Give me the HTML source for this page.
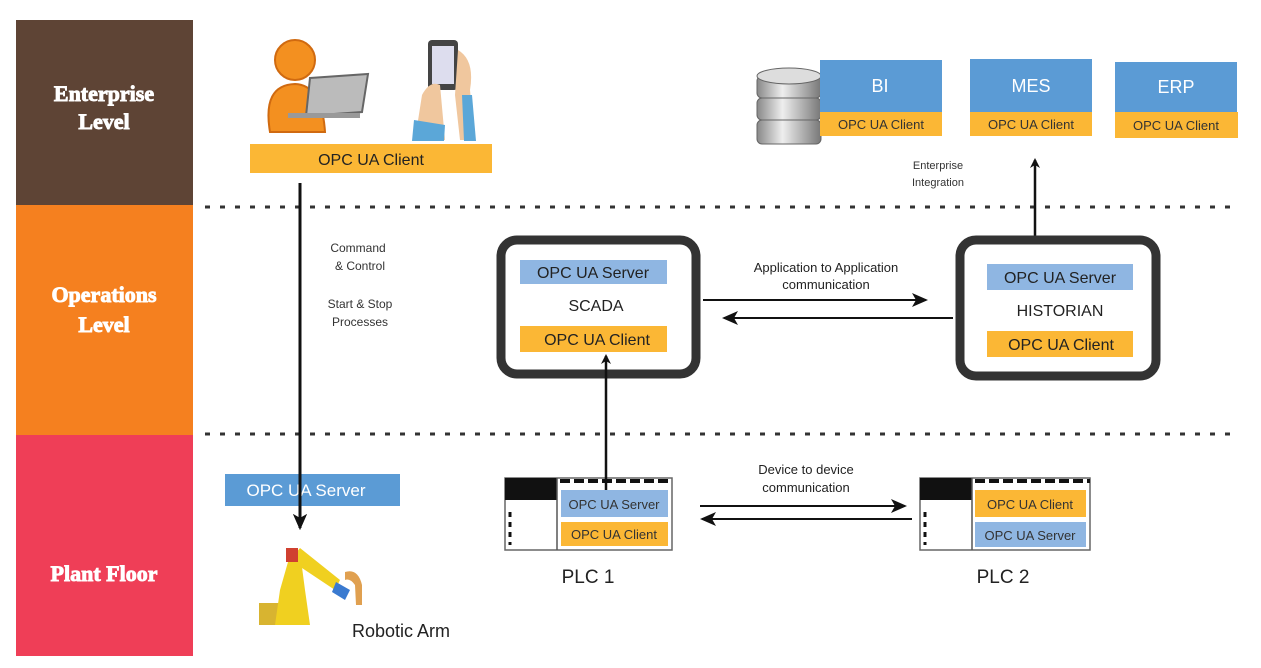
<!DOCTYPE html>
<html><head><meta charset="utf-8"><style>
html,body{margin:0;padding:0;background:#fff;width:1261px;height:668px;overflow:hidden}
svg{display:block}
text{font-family:"Liberation Sans",sans-serif}
text.lv{font-family:"Liberation Serif",serif;font-weight:bold;fill:#fff;font-size:22px;stroke:#fff;stroke-width:0.9}
</style></head><body>
<svg width="1261" height="668" viewBox="0 0 1261 668" xmlns="http://www.w3.org/2000/svg">
<defs>
<marker id="ah" markerWidth="10" markerHeight="10" refX="8" refY="5" orient="auto" markerUnits="userSpaceOnUse"><path d="M0,0 L10,5 L0,10 L3,5 Z" fill="#111"/></marker>
<marker id="ah2" markerWidth="16" markerHeight="14" refX="14" refY="7" orient="auto" markerUnits="userSpaceOnUse"><path d="M0,0 L16,7 L0,14 L4,7 Z" fill="#111"/></marker>
<linearGradient id="met" x1="0" x2="1" y1="0" y2="0"><stop offset="0" stop-color="#888"/><stop offset="0.4" stop-color="#eee"/><stop offset="1" stop-color="#777"/></linearGradient>
</defs>
<rect x="16" y="20" width="177" height="185" fill="#5e4435"/>
<rect x="16" y="205" width="177" height="230" fill="#f5801f"/>
<rect x="16" y="435" width="177" height="221" fill="#ef3e57"/>
<text class="lv" x="104" y="101" text-anchor="middle" font-weight="bold">Enterprise</text>
<text class="lv" x="104" y="129" text-anchor="middle" font-weight="bold">Level</text>
<text class="lv" x="104" y="302" text-anchor="middle" font-weight="bold">Operations</text>
<text class="lv" x="104" y="332" text-anchor="middle" font-weight="bold">Level</text>
<text class="lv" x="104" y="581" text-anchor="middle" font-weight="bold">Plant Floor</text>
<line x1="205" y1="207" x2="1240" y2="207" stroke="#333" stroke-width="3" stroke-dasharray="5,10"/>
<line x1="205" y1="434" x2="1240" y2="434" stroke="#333" stroke-width="3" stroke-dasharray="5,10"/>

<circle cx="295" cy="60" r="20" fill="#f39020" stroke="#d06a10" stroke-width="2"/>
<path d="M270,132 Q262,85 295,84 Q322,85 325,132 Z" fill="#f39020" stroke="#d06a10" stroke-width="2"/>
<path d="M310,78 L368,74 L362,112 L306,116 Z" fill="#bbb" stroke="#666" stroke-width="2"/>
<rect x="288" y="113" width="72" height="5" fill="#999"/>
<rect x="428" y="40" width="30" height="50" rx="4" fill="#444"/>
<rect x="432" y="46" width="22" height="38" fill="#dde"/>
<path d="M415,140 L422,95 Q430,80 440,85 L445,140 Z" fill="#f0c79e"/>
<path d="M458,50 Q475,60 470,90 L475,140 L460,140 L455,95 Z" fill="#f0c79e"/>
<path d="M414,120 L445,125 L444,141 L412,141 Z" fill="#5ba7d8"/>
<path d="M462,95 L472,95 L476,141 L464,141 Z" fill="#5ba7d8"/>
<rect x="250" y="144" width="242" height="29" fill="#fbb735"/>
<text x="371" y="165" font-size="16" text-anchor="middle" fill="#222">OPC UA Client</text>

<line x1="300" y1="183" x2="300" y2="528" stroke="#111" stroke-width="3" marker-end="url(#ah2)"/>
<g font-size="12" fill="#333" text-anchor="middle">
<text x="358" y="252">Command</text><text x="360" y="270">&amp; Control</text>
<text x="360" y="308">Start &amp; Stop</text><text x="360" y="326">Processes</text>
</g>

<g stroke="#666" stroke-width="1">
<rect x="757" y="120" width="64" height="24" rx="5" fill="url(#met)"/>
<rect x="757" y="98" width="64" height="22" rx="5" fill="url(#met)"/>
<rect x="757" y="76" width="64" height="22" rx="5" fill="url(#met)"/>
<ellipse cx="789" cy="76" rx="32" ry="8" fill="#ddd"/>
</g>
<rect x="820" y="60" width="122" height="52" fill="#5b9bd5"/>
<rect x="820" y="112" width="122" height="24" fill="#fbb735"/>
<rect x="970" y="59" width="122" height="53" fill="#5b9bd5"/>
<rect x="970" y="112" width="122" height="24" fill="#fbb735"/>
<rect x="1115" y="62" width="122" height="50" fill="#5b9bd5"/>
<rect x="1115" y="112" width="123" height="26" fill="#fbb735"/>
<g font-size="18" fill="#fff" text-anchor="middle">
<text x="880" y="92">BI</text><text x="1031" y="92">MES</text><text x="1176" y="93">ERP</text>
</g>
<g font-size="13" fill="#333" text-anchor="middle">
<text x="881" y="129">OPC UA Client</text><text x="1031" y="129">OPC UA Client</text><text x="1176" y="130">OPC UA Client</text>
</g>
<g font-size="11" fill="#333" text-anchor="middle">
<text x="938" y="169">Enterprise</text><text x="938" y="186">Integration</text>
</g>
<line x1="1035" y1="252" x2="1035" y2="160" stroke="#111" stroke-width="2.5" marker-end="url(#ah)"/>

<rect x="501" y="240" width="195" height="134" rx="16" fill="#fff" stroke="#333" stroke-width="9"/>
<rect x="520" y="260" width="147" height="24" fill="#8fb6e2"/>
<text x="593" y="278" font-size="16" text-anchor="middle" fill="#222">OPC UA Server</text>
<text x="596" y="311" font-size="16" text-anchor="middle" fill="#222">SCADA</text>
<rect x="520" y="326" width="147" height="26" fill="#fbb735"/>
<text x="597" y="345" font-size="16" text-anchor="middle" fill="#222">OPC UA Client</text>
<rect x="960" y="240" width="196" height="136" rx="16" fill="#fff" stroke="#333" stroke-width="9"/>
<rect x="987" y="264" width="146" height="26" fill="#8fb6e2"/>
<text x="1060" y="283" font-size="16" text-anchor="middle" fill="#222">OPC UA Server</text>
<text x="1060" y="316" font-size="16" text-anchor="middle" fill="#222">HISTORIAN</text>
<rect x="987" y="331" width="146" height="26" fill="#fbb735"/>
<text x="1061" y="350" font-size="16" text-anchor="middle" fill="#222">OPC UA Client</text>
<g font-size="13" fill="#222" text-anchor="middle">
<text x="826" y="272">Application to Application</text><text x="826" y="289">communication</text>
</g>
<line x1="703" y1="300" x2="926" y2="300" stroke="#111" stroke-width="2" marker-end="url(#ah2)"/>
<line x1="953" y1="318" x2="724" y2="318" stroke="#111" stroke-width="2" marker-end="url(#ah2)"/>

<g>
<rect x="505" y="478" width="167" height="72" fill="#fff" stroke="#666" stroke-width="1.5"/>
<rect x="505" y="478" width="52" height="22" fill="#111"/>
<line x1="557" y1="478" x2="557" y2="550" stroke="#555" stroke-width="1.5"/>
<line x1="560" y1="481" x2="672" y2="481" stroke="#111" stroke-width="4" stroke-dasharray="10,4"/>
<line x1="510" y1="512" x2="510" y2="545" stroke="#111" stroke-width="3" stroke-dasharray="5,5"/>
<rect x="561" y="490" width="107" height="27" fill="#8fb6e2"/>
<rect x="561" y="522" width="107" height="24" fill="#fbb735"/>
<text x="614" y="509" font-size="13" text-anchor="middle" fill="#333">OPC UA Server</text>
<text x="614" y="539" font-size="13" text-anchor="middle" fill="#333">OPC UA Client</text>
</g>
<text x="588" y="583" font-size="19" text-anchor="middle" fill="#222">PLC 1</text>
<line x1="606" y1="490" x2="606" y2="356" stroke="#111" stroke-width="2.5" marker-end="url(#ah)"/>
<g>
<rect x="920" y="478" width="170" height="72" fill="#fff" stroke="#666" stroke-width="1.5"/>
<rect x="920" y="478" width="52" height="22" fill="#111"/>
<line x1="972" y1="478" x2="972" y2="550" stroke="#555" stroke-width="1.5"/>
<line x1="975" y1="481" x2="1090" y2="481" stroke="#111" stroke-width="4" stroke-dasharray="10,4"/>
<line x1="925" y1="512" x2="925" y2="545" stroke="#111" stroke-width="3" stroke-dasharray="5,5"/>
<rect x="975" y="490" width="111" height="27" fill="#fbb735"/>
<rect x="975" y="522" width="111" height="25" fill="#8fb6e2"/>
<text x="1030" y="509" font-size="13" text-anchor="middle" fill="#333">OPC UA Client</text>
<text x="1030" y="540" font-size="13" text-anchor="middle" fill="#333">OPC UA Server</text>
</g>
<text x="1003" y="583" font-size="19" text-anchor="middle" fill="#222">PLC 2</text>
<g font-size="13" fill="#222" text-anchor="middle">
<text x="806" y="474">Device to device</text><text x="806" y="492">communication</text>
</g>
<line x1="700" y1="506" x2="905" y2="506" stroke="#111" stroke-width="2" marker-end="url(#ah2)"/>
<line x1="912" y1="519" x2="702" y2="519" stroke="#111" stroke-width="2" marker-end="url(#ah2)"/>

<rect x="225" y="474" width="175" height="32" fill="#5b9bd5"/>
<text x="306" y="496" font-size="17" text-anchor="middle" fill="#fff">OPC UA Server</text>
<line x1="300" y1="474" x2="300" y2="528" stroke="#111" stroke-width="3" marker-end="url(#ah2)"/>
<g>
<rect x="259" y="603" width="30" height="22" fill="#d8b430"/>
<path d="M275,625 L280,590 L290,555 L300,552 L305,590 L310,625 Z" fill="#f0d020"/>
<path d="M290,560 L300,548 L340,580 L335,590 Z" fill="#f0d020"/>
<rect x="286" y="548" width="12" height="14" fill="#d04030"/>
<path d="M336,582 L350,590 L345,600 L332,592 Z" fill="#3a7ad0"/>
<path d="M345,572 Q358,568 362,585 L362,605 L356,605 L355,585 Q350,578 345,580 Z" fill="#e0a050"/>
</g>
<text x="352" y="637" font-size="18" fill="#222">Robotic Arm</text>
</svg>
</body></html>
